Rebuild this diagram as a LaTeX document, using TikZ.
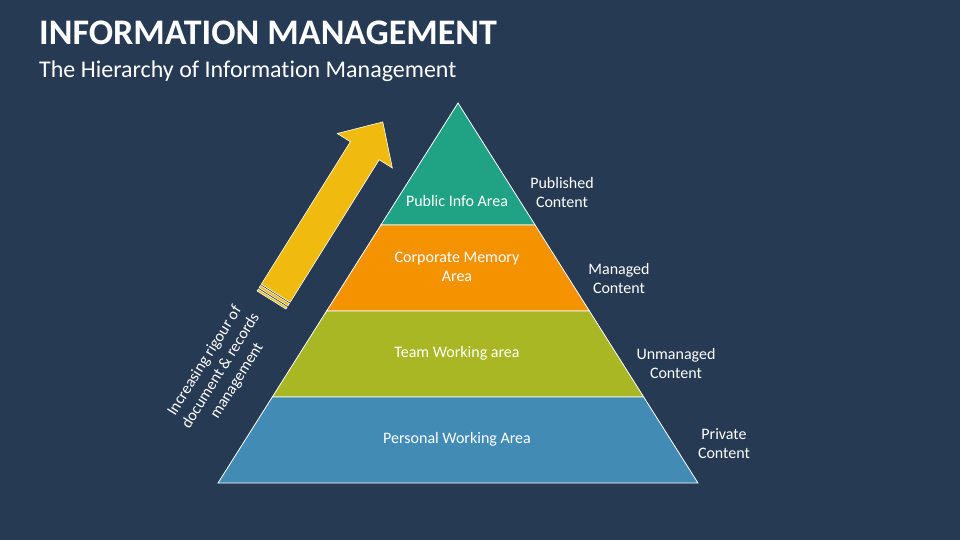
\documentclass[tikz,border=0pt]{standalone}
\usepackage{fontspec}
\setmainfont{Carlito}[Ligatures={NoCommon}]
\definecolor{bgc}{RGB}{38,58,83}
\definecolor{topc}{RGB}{31,163,132}
\definecolor{orangec}{RGB}{244,146,0}
\definecolor{olivec}{RGB}{169,183,36}
\definecolor{bluec}{RGB}{66,139,181}
\definecolor{yellowc}{RGB}{240,187,14}
\tikzset{
  layer/.style={draw=white, line width=0.8pt, line join=miter},
  lbl/.style={text=white, align=center, inner sep=1pt, font=\fontsize{16}{19}\selectfont},
  arrowpart/.style={fill=yellowc, draw=white, line width=0.6pt}
}
\begin{document}
\begin{tikzpicture}[x=1pt,y=-1pt]
\fill[bgc] (0,0) rectangle (960,540);
\useasboundingbox (0,0) rectangle (960,540);
% title
\node[anchor=base west, inner sep=0, text=white, font=\bfseries\fontsize{36}{42}\selectfont] (title) at (39,45) {INFORMATION MANAGEMENT};
\node[anchor=base west, inner sep=0, text=white, font=\fontsize{24}{28}\selectfont] (subtitle) at (39,78) {The Hierarchy of Information Management};
% pyramid
\coordinate (apex) at (458,103);
\coordinate (l1) at (380.9,225); \coordinate (r1) at (535.1,225);
\coordinate (l2) at (326.6,311); \coordinate (r2) at (589.4,311);
\coordinate (l3) at (272.3,397); \coordinate (r3) at (643.7,397);
\coordinate (l4) at (218,483);   \coordinate (r4) at (698,483);
\filldraw[layer, fill=topc] (apex) -- (r1) -- (l1) -- cycle;
\filldraw[layer, fill=orangec] (l1) -- (r1) -- (r2) -- (l2) -- cycle;
\filldraw[layer, fill=olivec] (l2) -- (r2) -- (r3) -- (l3) -- cycle;
\filldraw[layer, fill=bluec] (l3) -- (r3) -- (r4) -- (l4) -- cycle;
% layer labels
\node[lbl] (public) at (457,201) {Public Info Area};
\node[lbl] (corp) at (457,267) {Corporate Memory\\Area};
\node[lbl] (team) at (457,353) {Team Working area};
\node[lbl] (personal) at (457,439) {Personal Working Area};
% right labels
\node[lbl] (published) at (562,193) {Published\\Content};
\node[lbl] (managed) at (619,279) {Managed\\Content};
\node[lbl] (unmanaged) at (676,364) {Unmanaged\\Content};
\node[lbl] (private) at (724,444) {Private\\Content};
% striped arrow
\begin{scope}[shift={(271.5,300)}, rotate=58]
  \filldraw[arrowpart] (8,-17) -- (176,-17) -- (176,-32.5) -- (210,0) -- (176,32.5) -- (176,17) -- (8,17) -- cycle;
  \filldraw[arrowpart] (3.8,-17) rectangle (6.5,17);
  \filldraw[arrowpart] (0,-17) rectangle (2.2,17);
\end{scope}
\node[lbl, rotate=58] (rigour) at (221,371) {Increasing rigour of\\document \& records\\management};
\end{tikzpicture}
\end{document}
